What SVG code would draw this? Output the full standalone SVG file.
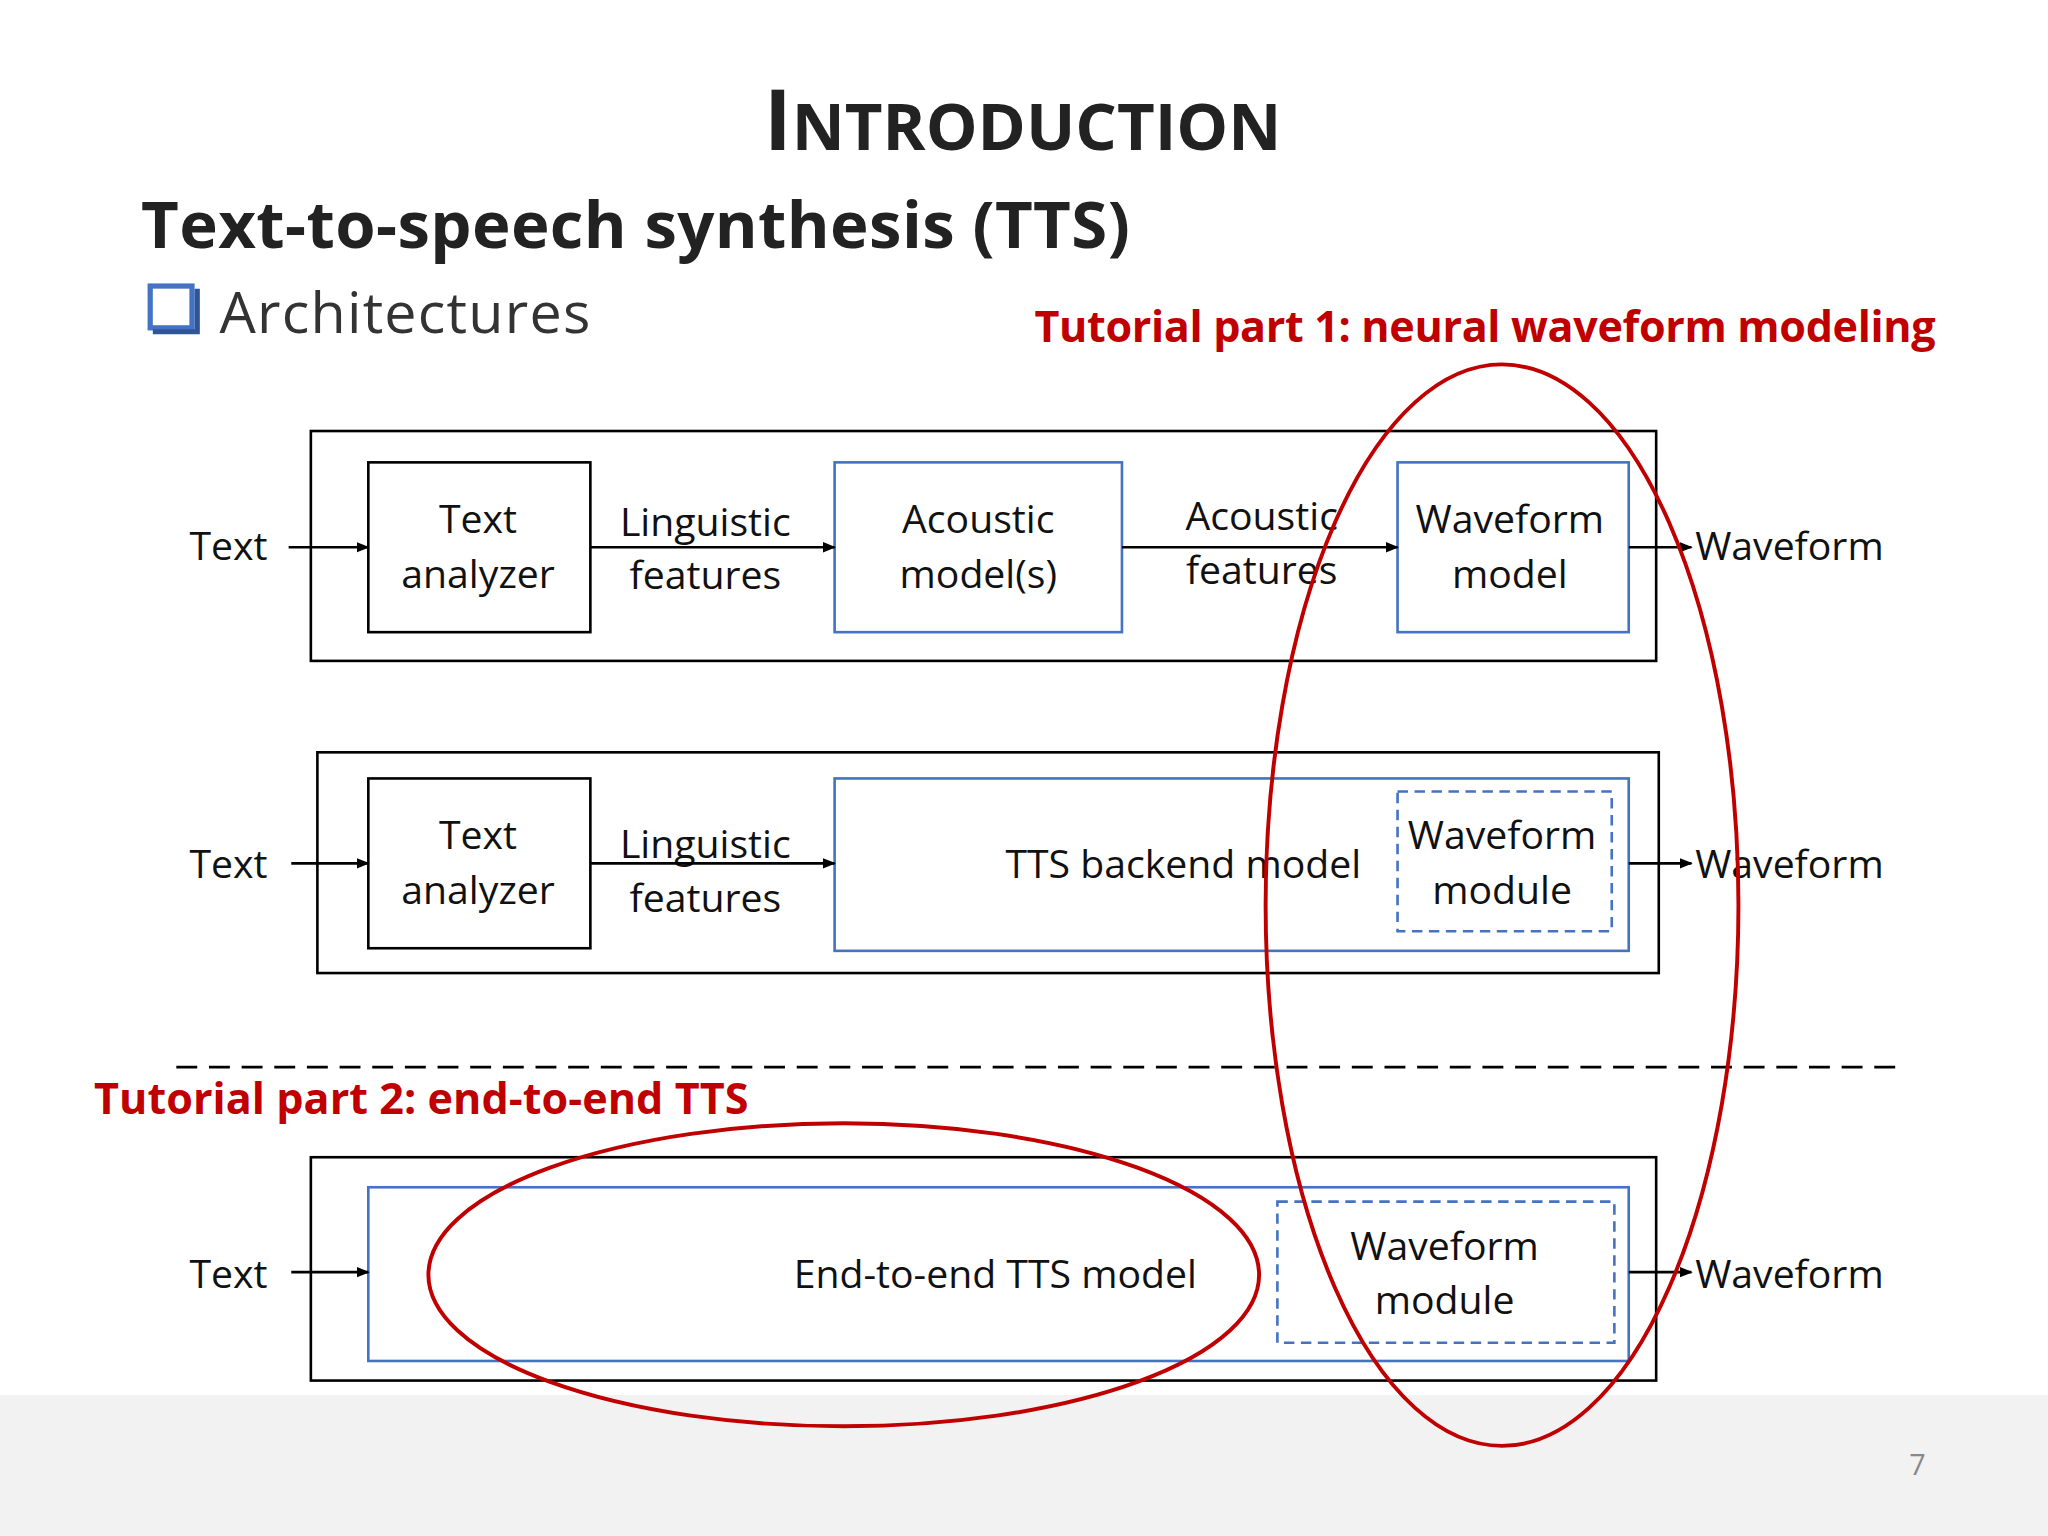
<svg xmlns="http://www.w3.org/2000/svg" width="2048" height="1536" viewBox="0 0 2048 1536">
<defs>
<marker id="ah" markerWidth="10" markerHeight="10" refX="9" refY="5" orient="auto" markerUnits="userSpaceOnUse"><path d="M0,1 L10,5 L0,9 z" fill="#000"/></marker>
<style>
.t{font-family:"Open Sans","Noto Sans",sans-serif;fill:#111}
.l{font-size:30px;text-anchor:middle}
.bk{fill:none;stroke:#000;stroke-width:2}
.bl{fill:none;stroke:#4472c4;stroke-width:2}
.ds{fill:none;stroke:#4472c4;stroke-width:2;stroke-dasharray:8,5}
.c{stroke:#000;stroke-width:2;fill:none;marker-end:url(#ah)}
.red{fill:none;stroke:#c00000;stroke-width:3}
.rt{font-family:"Open Sans","Noto Sans",sans-serif;font-weight:bold;fill:#c00000;font-size:33px}
</style>
</defs>
<rect width="2048" height="1536" fill="#fff"/>
<g transform="scale(1.30612)">
<rect x="0" y="1068" width="1568" height="108" fill="#f2f2f2"/>
<text class="t" x="1468" y="1129" font-size="22" fill="#888" style="fill:#888" text-anchor="middle">7</text>
<text class="t" x="783" y="115" text-anchor="middle" font-weight="bold" style="fill:#222"><tspan font-size="64">I</tspan><tspan font-size="50">NTRODUCTION</tspan></text>
<text class="t" x="108" y="190" font-size="50" font-weight="bold" textLength="757" style="fill:#222">Text-to-speech synthesis (TTS)</text>
<rect x="115" y="219" width="32" height="32" fill="#fff" stroke="#4472c4" stroke-width="4"/>
<path d="M117,254 H151 V221" stroke="#2f5597" stroke-width="4" fill="none"/>
<text class="t" x="168" y="255" font-size="44" textLength="284" style="fill:#333">Architectures</text>
<text class="rt" x="792" y="262" textLength="690">Tutorial part 1: neural waveform modeling</text>
<text class="rt" x="72" y="853" textLength="501">Tutorial part 2: end-to-end TTS</text>

<g id="row1">
<rect class="bk" x="238" y="330" width="1030" height="176"/>
<g id="ta1"><rect class="bk" x="282" y="354" width="170" height="130"/><text class="t l" x="366" y="408">Text</text><text class="t l" x="366" y="450">analyzer</text></g>
<g id="am1"><rect class="bl" x="639" y="354" width="220" height="130"/><text class="t l" x="749" y="408">Acoustic</text><text class="t l" x="749" y="450">model(s)</text></g>
<g id="wm1"><rect class="bl" x="1070" y="354" width="177" height="130"/><text class="t l" x="1156" y="408">Waveform</text><text class="t l" x="1156" y="450">model</text></g>
<text class="t l" x="175" y="429">Text</text>
<text class="t l" x="540" y="410">Linguistic</text><text class="t l" x="540" y="451">features</text>
<text class="t l" x="966" y="406">Acoustic</text><text class="t l" x="966" y="447">features</text>
<text class="t l" x="1370" y="429">Waveform</text>
</g>
<g id="row2">
<rect class="bk" x="243" y="576" width="1027" height="169"/>
<g id="ta2"><rect class="bk" x="282" y="596" width="170" height="130"/><text class="t l" x="366" y="650">Text</text><text class="t l" x="366" y="692">analyzer</text></g>
<g id="be"><rect class="bl" x="639" y="596" width="608" height="132"/><text class="t l" x="906" y="672">TTS backend model</text></g>
<g id="wm2"><rect class="ds" x="1070" y="606" width="164" height="107"/><text class="t l" x="1150" y="650">Waveform</text><text class="t l" x="1150" y="692">module</text></g>
<text class="t l" x="175" y="672">Text</text>
<text class="t l" x="540" y="657">Linguistic</text><text class="t l" x="540" y="698">features</text>
<text class="t l" x="1370" y="672">Waveform</text>
</g>
<line x1="135" y1="817" x2="1455" y2="817" stroke="#000" stroke-width="2" stroke-dasharray="16,9"/>
<g id="row3">
<rect class="bk" x="238" y="886" width="1030" height="171"/>
<g id="e2e"><rect class="bl" x="282" y="909" width="965" height="133"/><text class="t l" x="762" y="986">End-to-end TTS model</text></g>
<g id="wm3"><rect class="ds" x="978" y="920" width="258" height="108"/><text class="t l" x="1106" y="965">Waveform</text><text class="t l" x="1106" y="1006">module</text></g>
<text class="t l" x="175" y="986">Text</text>
<text class="t l" x="1370" y="986">Waveform</text>
</g>
<g id="connectors">
<line class="c" x1="221" y1="419" x2="282" y2="419"/>
<line class="c" x1="452" y1="419" x2="639" y2="419"/>
<line class="c" x1="859" y1="419" x2="1070" y2="419"/>
<line class="c" x1="1247" y1="419" x2="1295" y2="419"/>
<line class="c" x1="223" y1="661" x2="282" y2="661"/>
<line class="c" x1="452" y1="661" x2="639" y2="661"/>
<line class="c" x1="1247" y1="661" x2="1295" y2="661"/>
<line class="c" x1="223" y1="974" x2="282" y2="974"/>
<line class="c" x1="1247" y1="974" x2="1295" y2="974"/>
</g>
<ellipse class="red" cx="1150" cy="693" rx="181" ry="414"/>
<ellipse class="red" cx="646" cy="976" rx="318" ry="116"/>
</g>
</svg>
